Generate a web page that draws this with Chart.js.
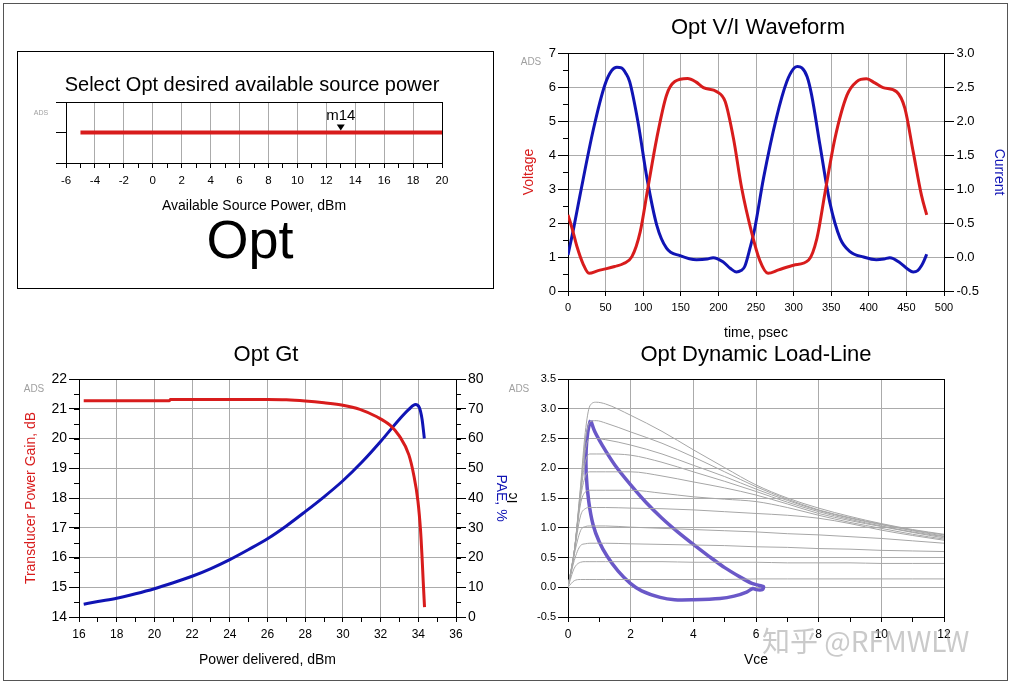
<!DOCTYPE html>
<html><head><meta charset="utf-8">
<script src="https://cdn.jsdelivr.net/npm/chart.js@4.4.1/dist/chart.umd.min.js"></script>
<style>
html,body{margin:0;padding:0;background:#fff;}
body{width:1011px;height:683px;position:relative;overflow:hidden;font-family:"Liberation Sans",Arial,sans-serif;}
canvas{position:absolute;}
.t{position:absolute;white-space:nowrap;line-height:1;}
.ads{position:absolute;color:#a0a0a0;font-size:10px;line-height:1;transform:translate(-50%,-50%);}
</style></head><body>
<div style="position:absolute;left:3px;top:3px;width:1003px;height:676px;border:1px solid #555;"></div>
<div style="position:absolute;left:17px;top:51px;width:475px;height:236px;border:1px solid #000;"></div>
<canvas id="cA" width="468" height="235" style="left:18px;top:52px"></canvas>
<canvas id="cB" width="500" height="340" style="left:508px;top:8px"></canvas>
<canvas id="cC" width="496" height="335" style="left:18px;top:340px"></canvas>
<canvas id="cD" width="504" height="335" style="left:504px;top:340px"></canvas>
<div class="t" style="left:150px;top:212px;width:200px;text-align:center;font-size:54px;color:#000">Opt</div>
<div class="ads" style="left:41px;top:112px;font-size:7px">ADS</div>
<div class="ads" style="left:531px;top:62px">ADS</div>
<div class="ads" style="left:34px;top:389px">ADS</div>
<div class="ads" style="left:519px;top:389px">ADS</div>
<div class="t" style="left:762px;top:626px;font-family:'Noto Sans CJK SC';font-size:28px;color:rgba(150,150,150,0.5)">知乎 @RFMWLW</div>
<script>
// ---------- Panel A : source power sweep ----------
const srcPowerX = [-5, 20];
const srcLevel = [1, 1];
const markerPower = 13;
const markerName = 'm14';

// ---------- Panel B : V/I waveform ----------
const vTime = [0, 6, 12, 20, 28, 40, 50, 62, 74, 85, 96, 106, 118, 131, 142, 159, 170, 180, 198, 209, 220, 231, 244, 255, 266, 280, 300, 320, 331, 342, 355, 371, 384, 397, 408, 419, 437, 448, 459, 470, 477];
const voltage = [2.24, 1.8, 1.3, 0.8, 0.52, 0.6, 0.65, 0.72, 0.81, 1.01, 1.74, 3.0, 4.49, 5.76, 6.16, 6.25, 6.15, 5.98, 5.86, 5.57, 4.49, 3.02, 1.74, 0.9, 0.52, 0.62, 0.76, 0.91, 1.55, 2.92, 4.49, 5.76, 6.16, 6.24, 6.12, 5.98, 5.86, 5.37, 4.1, 2.82, 2.24];
const iTime = [0, 8, 16, 34, 49, 58, 65, 71, 77, 82, 93, 105, 118, 131, 149, 171, 185, 193, 206, 216, 224, 230, 235, 242, 248, 260, 277, 291, 300, 305, 311, 318, 324, 335, 348, 362, 375, 393, 410, 420, 428, 441, 452, 459, 465, 470, 474, 477];
const current = [0.03, 0.45, 0.91, 1.89, 2.53, 2.74, 2.79, 2.78, 2.70, 2.58, 1.99, 1.16, 0.47, 0.13, 0.02, -0.04, -0.03, -0.01, -0.07, -0.17, -0.22, -0.20, -0.14, 0.13, 0.40, 1.16, 2.04, 2.58, 2.77, 2.80, 2.78, 2.65, 2.38, 1.65, 0.81, 0.27, 0.08, 0.00, -0.04, -0.03, -0.01, -0.08, -0.18, -0.22, -0.20, -0.13, -0.04, 0.04];

// ---------- Panel C : Gt and PAE ----------
const gainPdel = [16.25, 18, 20, 20.8, 20.85, 22, 24, 26, 27, 28, 29, 30, 30.9, 31.8, 32.5, 33.0, 33.5, 33.75, 33.98, 34.12, 34.2, 34.26, 34.33];
const gainDb = [21.27, 21.27, 21.27, 21.27, 21.31, 21.31, 21.31, 21.31, 21.30, 21.26, 21.20, 21.12, 20.98, 20.73, 20.45, 20.08, 19.45, 18.8, 17.9, 16.9, 16.0, 15.2, 14.33];
const paePdel = [16.25, 17, 18, 19, 20, 21, 22, 23, 24, 25, 26, 27, 28, 29, 30, 31, 32, 33, 33.5, 33.85, 34.05, 34.2, 34.32];
const paePct = [4.3, 5.2, 6.3, 7.8, 9.5, 11.5, 13.7, 16.3, 19.3, 22.7, 26.3, 30.6, 35.4, 40.4, 45.8, 52.0, 59.0, 66.5, 69.8, 71.4, 70.5, 66.5, 60.0];

// ---------- Panel D : dynamic load line ----------
const ivVce = [0, 0.2, 0.4, 0.55, 0.7, 0.9, 1.2, 2, 3, 4, 5, 6, 7, 8, 9, 10, 11, 12];
const ivIc1 = [0, 0.6, 1.7, 2.6, 3.05, 3.11, 3.08, 2.89, 2.62, 2.31, 2.01, 1.72, 1.50, 1.33, 1.19, 1.07, 0.97, 0.89];
const ivIc2 = [0, 0.6, 1.65, 2.45, 2.78, 2.80, 2.76, 2.61, 2.42, 2.19, 1.94, 1.69, 1.48, 1.30, 1.17, 1.06, 0.96, 0.88];
const ivIc3 = [0, 0.6, 1.6, 2.3, 2.5, 2.5, 2.48, 2.39, 2.24, 2.05, 1.86, 1.65, 1.46, 1.29, 1.16, 1.05, 0.95, 0.86];
const ivIc4 = [0, 0.6, 1.55, 2.1, 2.24, 2.24, 2.24, 2.22, 2.10, 1.94, 1.78, 1.61, 1.43, 1.27, 1.14, 1.03, 0.93, 0.85];
const ivIc5 = [0, 0.6, 1.5, 1.86, 1.94, 1.94, 1.94, 1.94, 1.87, 1.77, 1.67, 1.55, 1.40, 1.24, 1.12, 1.02, 0.92, 0.83];
const ivIc6 = [0, 0.6, 1.4, 1.6, 1.63, 1.63, 1.63, 1.63, 1.58, 1.52, 1.48, 1.44, 1.34, 1.21, 1.09, 0.99, 0.89, 0.81];
const ivIc7 = [0, 0.6, 1.2, 1.32, 1.34, 1.34, 1.34, 1.33, 1.32, 1.30, 1.27, 1.24, 1.21, 1.16, 1.07, 0.96, 0.87, 0.79];
const ivIc8 = [0, 0.55, 0.95, 1.02, 1.03, 1.03, 1.03, 1.01, 0.99, 0.97, 0.95, 0.93, 0.90, 0.88, 0.85, 0.82, 0.78, 0.74];
const ivIc9 = [0, 0.45, 0.70, 0.73, 0.74, 0.74, 0.74, 0.73, 0.72, 0.71, 0.70, 0.68, 0.67, 0.65, 0.64, 0.62, 0.61, 0.60];
const ivIc10 = [0, 0.32, 0.42, 0.43, 0.43, 0.43, 0.43, 0.43, 0.43, 0.42, 0.42, 0.42, 0.41, 0.41, 0.41, 0.40, 0.40, 0.40];
const ivIc11 = [0, 0.11, 0.13, 0.13, 0.13, 0.13, 0.13, 0.13, 0.13, 0.13, 0.13, 0.14, 0.14, 0.14, 0.14, 0.14, 0.14, 0.14];
const loopVce = [0.73, 0.85, 1.1, 1.5, 2.0, 2.5, 3.0, 3.5, 4.0, 4.5, 5.0, 5.5, 5.85, 6.1, 6.24, 6.2, 6.0, 5.9, 5.7, 5.3, 4.85, 4.0, 3.4, 2.94, 2.35, 1.98, 1.6, 1.25, 1.0, 0.8, 0.66, 0.58, 0.58, 0.63, 0.70, 0.73];
const loopIc = [2.80, 2.62, 2.38, 2.05, 1.72, 1.42, 1.16, 0.93, 0.72, 0.52, 0.33, 0.17, 0.07, 0.03, 0.01, -0.04, -0.04, -0.02, -0.08, -0.15, -0.19, -0.21, -0.21, -0.17, -0.06, 0.07, 0.27, 0.52, 0.76, 1.05, 1.45, 1.91, 2.31, 2.60, 2.78, 2.80];

// ---------- helpers ----------
const RED = '#d81c1c', BLUE = '#1014b4', GRID = '#ababab', PURPLE = '#6a58c8', IVGRAY = '#a6a6a6';
Chart.defaults.font.family = '"Liberation Sans", Arial, sans-serif';
Chart.defaults.color = '#000';
const pts = (xs, ys) => xs.map((x, i) => ({x: x, y: ys[i]}));
const isMult = (v, m) => Math.abs(v / m - Math.round(v / m)) < 1e-6;
const fixW = w => s => { s.width = w; };
const fixH = h => s => { s.height = h; };
const spacerAxis = w => ({type: 'linear', position: 'right', min: 0, max: 1, afterFit: fixW(w), border: {display: false}, ticks: {display: false}, grid: {display: false}});
const framePlugin = {
  id: 'frame',
  beforeDatasetsDraw(chart) {
    const a = chart.chartArea, ctx = chart.ctx;
    ctx.save(); ctx.strokeStyle = '#000'; ctx.lineWidth = 1;
    ctx.strokeRect(Math.round(a.left) + 0.5, Math.round(a.top) + 0.5, Math.round(a.right) - Math.round(a.left), Math.round(a.bottom) - Math.round(a.top));
    ctx.restore();
  }
};
function minorTicks(list) {
  return {
    id: 'minorTicks',
    afterDatasetsDraw(chart) {
      const ctx = chart.ctx;
      ctx.save(); ctx.strokeStyle = '#000'; ctx.lineWidth = 1;
      list.forEach(m => {
        const s = chart.scales[m.id];
        for (let v = s.min; v <= s.max + 1e-9; v += m.step) {
          const p = Math.round(s.getPixelForValue(v)) + 0.5;
          ctx.beginPath();
          if (m.side === 'left') { ctx.moveTo(s.right - m.len, p); ctx.lineTo(s.right, p); }
          else { ctx.moveTo(s.left, p); ctx.lineTo(s.left + m.len, p); }
          ctx.stroke();
        }
      });
      ctx.restore();
    }
  };
}
function markerPlugin(xv, yv, text) {
  return {
    id: 'marker',
    afterDatasetsDraw(chart) {
      const ctx = chart.ctx;
      const px = chart.scales.x.getPixelForValue(xv), py = chart.scales.y.getPixelForValue(yv);
      ctx.save();
      ctx.fillStyle = '#000';
      ctx.beginPath(); ctx.moveTo(px - 4, py - 8); ctx.lineTo(px + 4, py - 8); ctx.lineTo(px, py - 2); ctx.closePath(); ctx.fill();
      ctx.font = '15px "Liberation Sans", Arial, sans-serif'; ctx.textAlign = 'center'; ctx.textBaseline = 'middle';
      ctx.fillText(text, px, py - 17);
      ctx.restore();
    }
  };
}
const base = {responsive: false, animation: false, devicePixelRatio: 1, events: []};
const noLegend = {legend: {display: false}, tooltip: {enabled: false}};

// ---------- Chart A ----------
new Chart(document.getElementById('cA'), {
  type: 'scatter',
  data: {datasets: [{data: pts(srcPowerX, srcLevel), showLine: true, borderColor: RED, borderWidth: 4, pointRadius: 0}]},
  options: Object.assign({}, base, {
    layout: {padding: {left: 0, right: 0, top: 0, bottom: 69}},
    plugins: Object.assign({}, noLegend, {
      title: {display: true, text: 'Select Opt desired available source power', color: '#000', font: {size: 20, weight: 'normal'}, padding: {top: 21, bottom: 5}}
    }),
    scales: {
      x: {type: 'linear', min: -6, max: 20, afterFit: fixH(55), border: {display: false},
        ticks: {stepSize: 1, autoSkip: false, maxRotation: 0, padding: 6.4, font: {size: 11.5}, callback: v => isMult(v, 2) ? String(v) : ''},
        grid: {color: c => isMult(c.tick.value, 2) ? GRID : 'transparent', tickColor: '#000', tickLength: 5},
        title: {display: true, text: 'Available Source Power, dBm', font: {size: 14}, padding: {top: 0, bottom: 3.6}}},
      y: {type: 'linear', min: 0, max: 2, afterFit: fixW(48), border: {display: false},
        ticks: {stepSize: 1, callback: () => '', padding: 0},
        grid: {color: 'transparent', tickColor: '#000', tickLength: 10}},
      yR: spacerAxis(44)
    }
  }),
  plugins: [framePlugin, markerPlugin(markerPower, srcLevel[0], markerName)]
});

// ---------- Chart B ----------
new Chart(document.getElementById('cB'), {
  type: 'scatter',
  data: {datasets: [
    {data: pts(vTime, voltage), yAxisID: 'y', showLine: true, borderColor: RED, borderWidth: 3, pointRadius: 0, cubicInterpolationMode: 'monotone'},
    {data: pts(iTime, current), yAxisID: 'y1', showLine: true, borderColor: BLUE, borderWidth: 3, pointRadius: 0, cubicInterpolationMode: 'monotone'}
  ]},
  options: Object.assign({}, base, {
    layout: {padding: 0},
    plugins: Object.assign({}, noLegend, {
      title: {display: true, text: 'Opt V/I Waveform', color: '#000', font: {size: 22, weight: 'normal'}, padding: {top: 6.8, bottom: 11.8}}
    }),
    scales: {
      x: {type: 'linear', min: 0, max: 500, afterFit: fixH(57), border: {display: false},
        ticks: {stepSize: 50, autoSkip: false, maxRotation: 0, padding: 5.4, font: {size: 11}},
        grid: {color: GRID, tickColor: '#000', tickLength: 5},
        title: {display: true, text: 'time, psec', font: {size: 14}, padding: {top: 0, bottom: 6.6}}},
      y: {type: 'linear', position: 'left', min: 0, max: 7, afterFit: fixW(60), border: {display: false},
        ticks: {stepSize: 1, padding: 2, font: {size: 13}},
        grid: {color: GRID, tickColor: '#000', tickLength: 10},
        title: {display: true, text: 'Voltage', color: RED, font: {size: 14}, padding: {top: 12.6, bottom: 0}}},
      y1: {type: 'linear', position: 'right', min: -0.5, max: 3.0, afterFit: fixW(64), border: {display: false},
        ticks: {stepSize: 0.5, padding: 2.5, font: {size: 13}, callback: v => v.toFixed(1)},
        grid: {drawOnChartArea: false, tickColor: '#000', tickLength: 10},
        title: {display: true, text: 'Current', color: BLUE, font: {size: 14}, padding: {top: 0.6, bottom: 0}}}
    }
  }),
  plugins: [framePlugin, minorTicks([{id: 'y', step: 0.5, len: 5, side: 'left'}])]
});

// ---------- Chart C ----------
new Chart(document.getElementById('cC'), {
  type: 'scatter',
  data: {datasets: [
    {data: pts(gainPdel, gainDb), yAxisID: 'y', showLine: true, borderColor: RED, borderWidth: 3, pointRadius: 0, cubicInterpolationMode: 'monotone'},
    {data: pts(paePdel, paePct), yAxisID: 'y1', showLine: true, borderColor: BLUE, borderWidth: 3, pointRadius: 0, cubicInterpolationMode: 'monotone'}
  ]},
  options: Object.assign({}, base, {
    layout: {padding: 0},
    plugins: Object.assign({}, noLegend, {
      title: {display: true, text: 'Opt Gt', color: '#000', font: {size: 22, weight: 'normal'}, padding: {top: 1.8, bottom: 10.8}}
    }),
    scales: {
      x: {type: 'linear', min: 16, max: 36, afterFit: fixH(58), border: {display: false},
        ticks: {stepSize: 1, autoSkip: false, maxRotation: 0, padding: 5.8, font: {size: 12}, callback: v => isMult(v, 2) ? String(v) : ''},
        grid: {color: c => isMult(c.tick.value, 2) ? GRID : 'transparent', tickColor: '#000', tickLength: 5},
        title: {display: true, text: 'Power delivered, dBm', font: {size: 14}, padding: {top: 0, bottom: 6.6}}},
      y: {type: 'linear', position: 'left', min: 14, max: 22, afterFit: fixW(61), border: {display: false},
        ticks: {stepSize: 1, padding: 2, font: {size: 14}},
        grid: {color: GRID, tickColor: '#000', tickLength: 10},
        title: {display: true, text: 'Transducer Power Gain, dB', color: RED, font: {size: 14}, padding: {top: 4.6, bottom: 0}}},
      y1: {type: 'linear', position: 'right', min: 0, max: 80, afterFit: fixW(58), border: {display: false},
        ticks: {stepSize: 10, padding: 2, font: {size: 14}},
        grid: {drawOnChartArea: false, tickColor: '#000', tickLength: 10},
        title: {display: true, text: 'PAE, %', color: BLUE, font: {size: 14}, padding: {top: 4.6, bottom: 0}}}
    }
  }),
  plugins: [framePlugin, minorTicks([{id: 'y', step: 0.5, len: 5, side: 'left'}, {id: 'y1', step: 5, len: 5, side: 'right'}])]
});

// ---------- Chart D ----------
const ivSets = [ivIc1, ivIc2, ivIc3, ivIc4, ivIc5, ivIc6, ivIc7, ivIc8, ivIc9, ivIc10, ivIc11].map(arr => ({
  data: pts(ivVce, arr), showLine: true, borderColor: IVGRAY, borderWidth: 1, pointRadius: 0, cubicInterpolationMode: 'monotone'
}));
ivSets.push({data: pts(loopVce, loopIc), showLine: true, borderColor: PURPLE, borderWidth: 3.5, pointRadius: 0, tension: 0.3});
new Chart(document.getElementById('cD'), {
  type: 'scatter',
  data: {datasets: ivSets},
  options: Object.assign({}, base, {
    layout: {padding: 0},
    plugins: Object.assign({}, noLegend, {
      title: {display: true, text: 'Opt Dynamic Load-Line', color: '#000', font: {size: 22, weight: 'normal'}, padding: {top: 1.8, bottom: 10.8}}
    }),
    scales: {
      x: {type: 'linear', min: 0, max: 12, afterFit: fixH(58), border: {display: false},
        ticks: {stepSize: 1, autoSkip: false, maxRotation: 0, padding: 5.8, font: {size: 12}, callback: v => isMult(v, 2) ? String(v) : ''},
        grid: {color: c => isMult(c.tick.value, 2) ? GRID : 'transparent', tickColor: '#000', tickLength: 5},
        title: {display: true, text: 'Vce', font: {size: 14}, padding: {top: 0, bottom: 6.6}}},
      y: {type: 'linear', position: 'left', min: -0.5, max: 3.5, afterFit: fixW(64), border: {display: false},
        ticks: {stepSize: 0.5, padding: 2, font: {size: 11}, callback: v => v.toFixed(1)},
        grid: {color: GRID, tickColor: '#000', tickLength: 10},
        title: {display: true, text: 'Ic', color: '#000', font: {size: 14}, padding: {top: 0.6, bottom: 0}}},
      yR: spacerAxis(64)
    }
  }),
  plugins: [framePlugin]
});
</script>
</body></html>
